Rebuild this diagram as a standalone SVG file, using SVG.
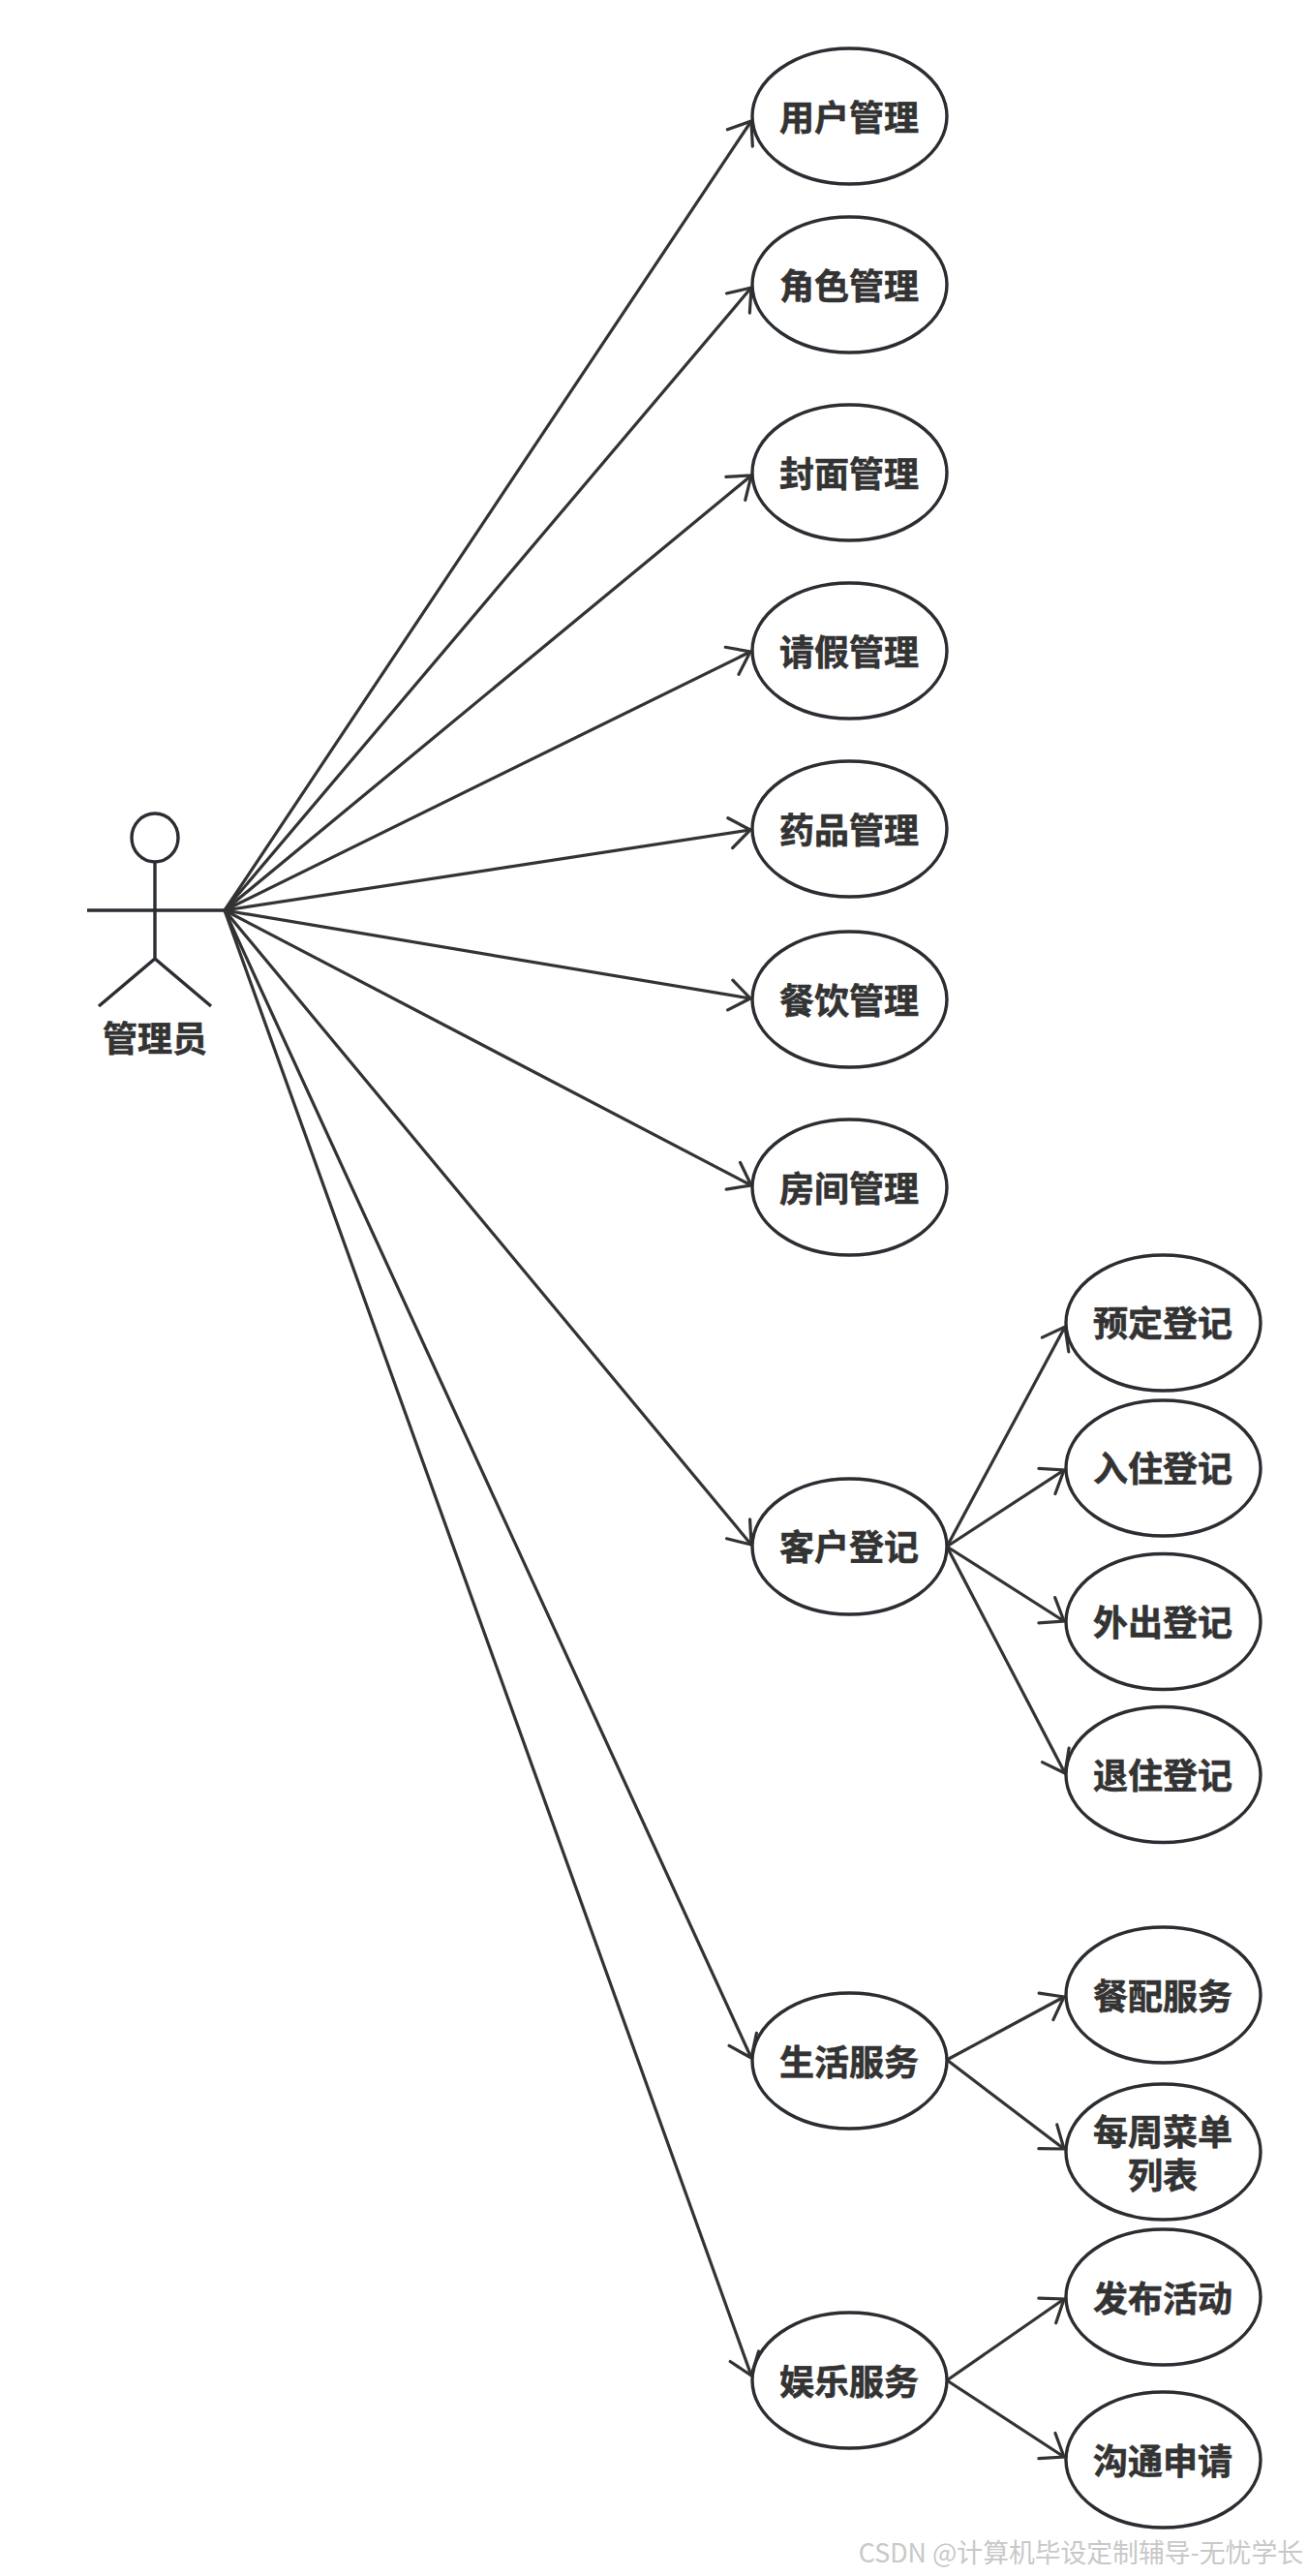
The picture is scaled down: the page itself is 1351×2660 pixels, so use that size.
<svg xmlns="http://www.w3.org/2000/svg" width="1351" height="2660" viewBox="0 0 1351 2660">
<style>
.n{fill:#fff;stroke:#2a2e32;stroke-width:3.4}
.t{font-family:"Noto Sans CJK SC","Noto Sans",sans-serif;font-size:36px;font-weight:700;fill:#333;stroke:#333;stroke-width:.6;text-anchor:middle}
.c{fill:none;stroke:#333;stroke-width:3.2;marker-end:url(#a)}
.s{fill:none;stroke:#2a2e32;stroke-width:3.4}
</style>
<defs><marker id="a" markerUnits="userSpaceOnUse" markerWidth="40" markerHeight="40" refX="30" refY="20" orient="auto"><path d="M9,4.4 L30,20 L9,35.6" fill="none" stroke="#333" stroke-width="3.2" stroke-linecap="round"/></marker></defs>
<rect width="1351" height="2660" fill="#fff"/>
<g id="connectors">
<path class="c" d="M232 940L776 125"/>
<path class="c" d="M232 940L776 297"/>
<path class="c" d="M232 940L776 491"/>
<path class="c" d="M232 940L775 673"/>
<path class="c" d="M232 940L775 857"/>
<path class="c" d="M232 940L775 1031"/>
<path class="c" d="M232 940L776 1224"/>
<path class="c" d="M232 940L776 1595"/>
<path class="c" d="M232 940L776 2125"/>
<path class="c" d="M232 940L776 2453"/>
<path class="c" d="M978 1597L1100 1370"/>
<path class="c" d="M978 1597L1099 1518"/>
<path class="c" d="M978 1597L1099 1674"/>
<path class="c" d="M978 1597L1100 1831"/>
<path class="c" d="M978 2127L1099 2062"/>
<path class="c" d="M978 2127L1099 2219"/>
<path class="c" d="M978 2458L1099 2374"/>
<path class="c" d="M978 2458L1099 2537"/>
</g>
<g id="actor"><ellipse cx="160" cy="865" rx="24" ry="25" fill="#fff" stroke="#2a2e32" stroke-width="3.4"/><path class="s" d="M160 890V990M90 940H232M102 1039L160 990L218 1039"/><text class="t" x="160" y="1086">管理员</text></g>
<g id="n1"><ellipse class="n" cx="877.5" cy="120" rx="100.5" ry="70"/><text class="t" x="877" y="135">用户管理</text></g>
<g id="n2"><ellipse class="n" cx="877.5" cy="294" rx="100.5" ry="70"/><text class="t" x="877" y="309">角色管理</text></g>
<g id="n3"><ellipse class="n" cx="877.5" cy="488" rx="100.5" ry="70"/><text class="t" x="877" y="503">封面管理</text></g>
<g id="n4"><ellipse class="n" cx="877.5" cy="672" rx="100.5" ry="70"/><text class="t" x="877" y="687">请假管理</text></g>
<g id="n5"><ellipse class="n" cx="877.5" cy="856" rx="100.5" ry="70"/><text class="t" x="877" y="871">药品管理</text></g>
<g id="n6"><ellipse class="n" cx="877.5" cy="1032" rx="100.5" ry="70"/><text class="t" x="877" y="1047">餐饮管理</text></g>
<g id="n7"><ellipse class="n" cx="877.5" cy="1226" rx="100.5" ry="70"/><text class="t" x="877" y="1241">房间管理</text></g>
<g id="n8"><ellipse class="n" cx="877.5" cy="1597" rx="100.5" ry="70"/><text class="t" x="877" y="1611">客户登记</text></g>
<g id="n9"><ellipse class="n" cx="877.5" cy="2128" rx="100.5" ry="70"/><text class="t" x="877" y="2143">生活服务</text></g>
<g id="n10"><ellipse class="n" cx="877.5" cy="2458" rx="100.5" ry="70"/><text class="t" x="877" y="2473">娱乐服务</text></g>
<g id="n11"><ellipse class="n" cx="1201.5" cy="1366" rx="100.5" ry="70"/><text class="t" x="1201" y="1380">预定登记</text></g>
<g id="n12"><ellipse class="n" cx="1201.5" cy="1516" rx="100.5" ry="70"/><text class="t" x="1201" y="1530">入住登记</text></g>
<g id="n13"><ellipse class="n" cx="1201.5" cy="1674.5" rx="100.5" ry="70"/><text class="t" x="1201" y="1689">外出登记</text></g>
<g id="n14"><ellipse class="n" cx="1201.5" cy="1832.5" rx="100.5" ry="70"/><text class="t" x="1201" y="1847">退住登记</text></g>
<g id="n15"><ellipse class="n" cx="1201.5" cy="2060" rx="100.5" ry="70"/><text class="t" x="1201" y="2075">餐配服务</text></g>
<g id="n16"><ellipse class="n" cx="1201.5" cy="2222" rx="100.5" ry="70"/><text class="t" x="1201" y="2215">每周菜单</text><text class="t" x="1201" y="2260">列表</text></g>
<g id="n17"><ellipse class="n" cx="1201.5" cy="2372" rx="100.5" ry="70"/><text class="t" x="1201" y="2387">发布活动</text></g>
<g id="n18"><ellipse class="n" cx="1201.5" cy="2540" rx="100.5" ry="70"/><text class="t" x="1201" y="2555">沟通申请</text></g>
<text x="1346" y="2646" font-family="Noto Sans CJK SC,Noto Sans,sans-serif" font-size="26.8" fill="#c8c8c8" text-anchor="end">CSDN @计算机毕设定制辅导-无忧学长</text>
</svg>
